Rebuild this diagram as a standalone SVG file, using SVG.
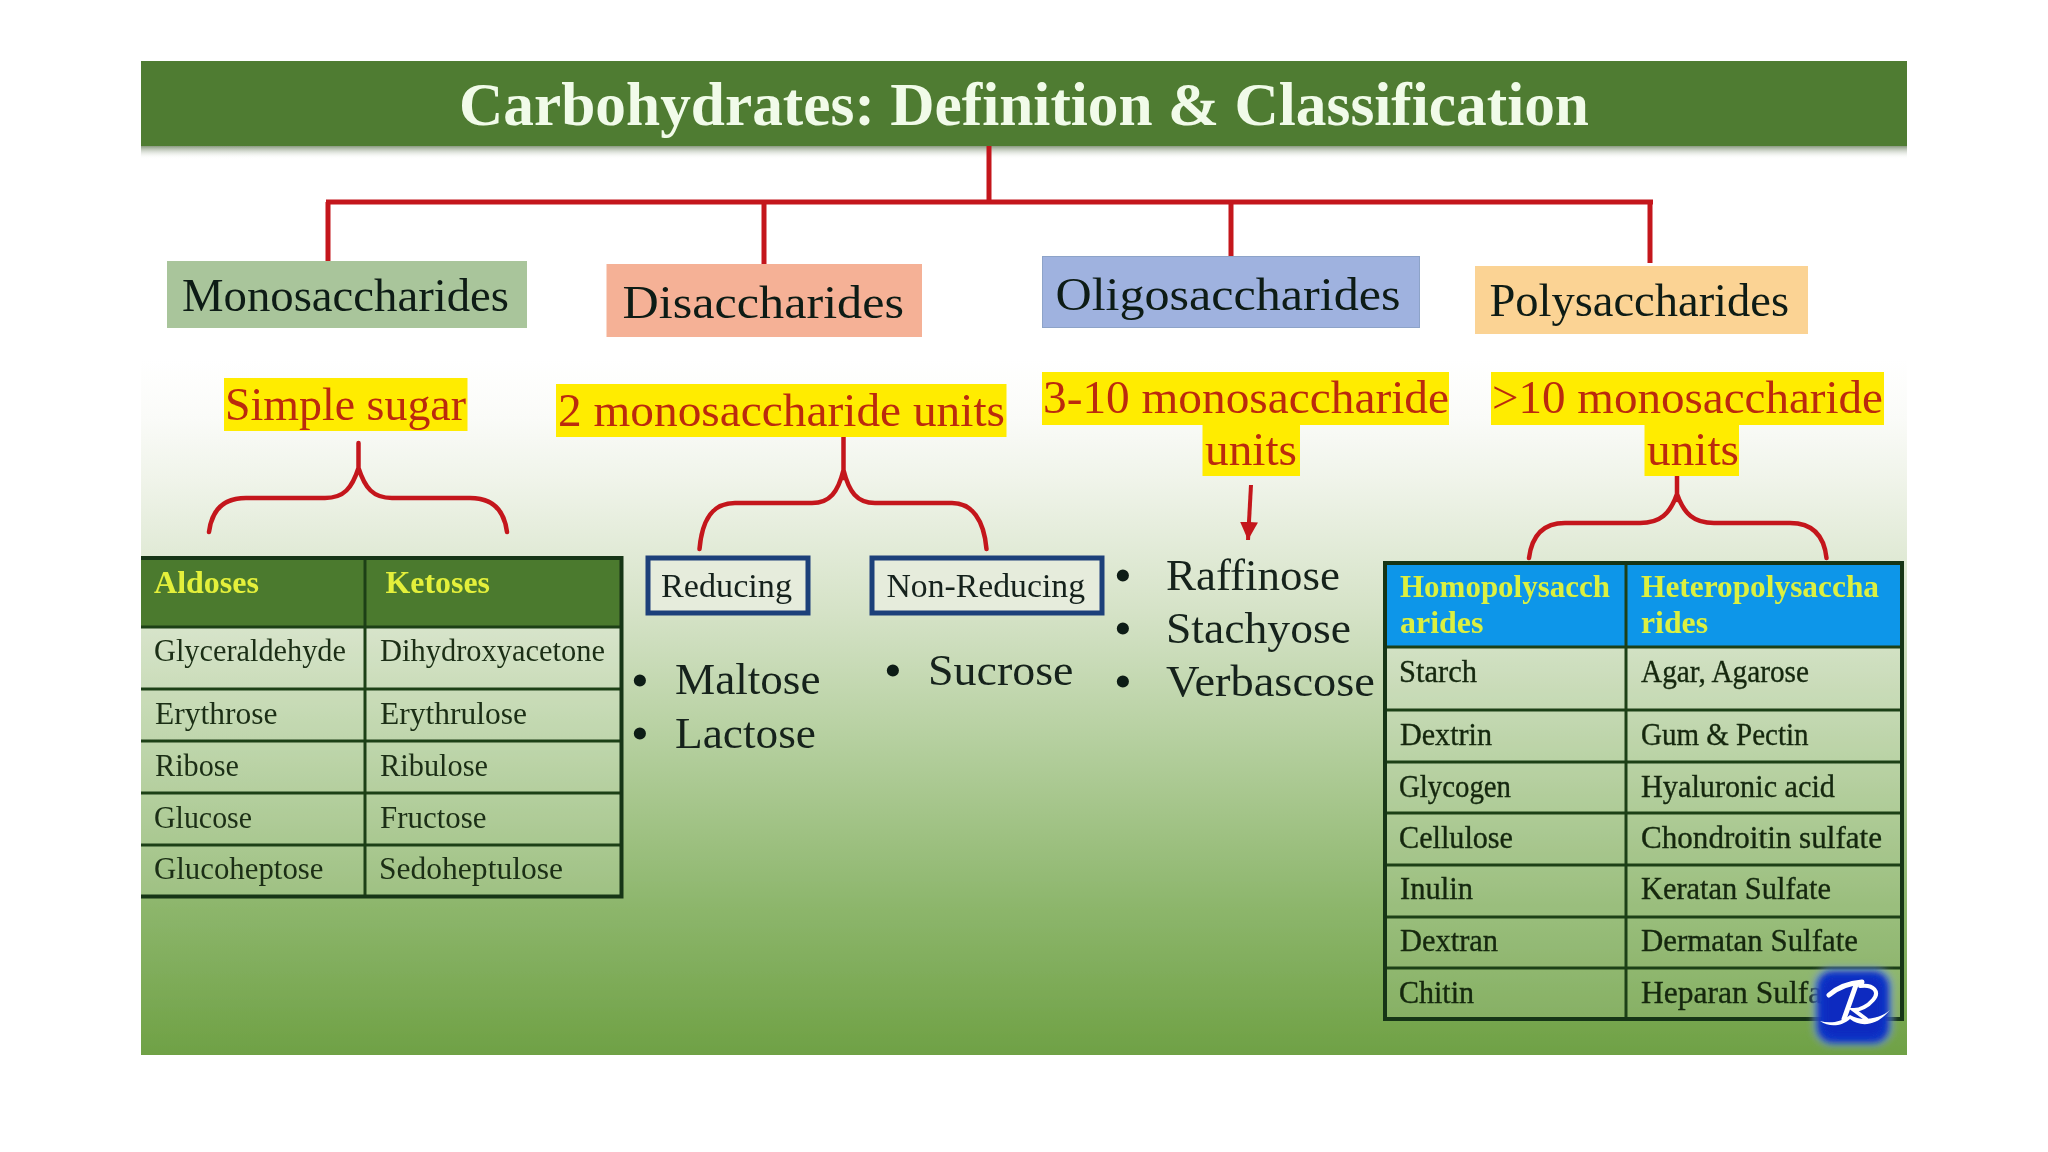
<svg xmlns="http://www.w3.org/2000/svg" width="2048" height="1152" viewBox="0 0 2048 1152">
<defs>
<linearGradient id="bg" x1="0" y1="0" x2="0" y2="1">
<stop offset="0" stop-color="#ffffff"/><stop offset="0.3" stop-color="#ffffff"/><stop offset="0.36" stop-color="#fafbf8"/><stop offset="0.42" stop-color="#f0f4ea"/><stop offset="0.55" stop-color="#d6e3c8"/><stop offset="0.68" stop-color="#b6d0a0"/><stop offset="0.85" stop-color="#8db66c"/><stop offset="1" stop-color="#6fa145"/>
</linearGradient>
<linearGradient id="shadow" x1="0" y1="0" x2="0" y2="1"><stop offset="0" stop-color="#8a9a80"/><stop offset="1" stop-color="#ffffff" stop-opacity="0"/></linearGradient>
<filter id="soft" x="-20%" y="-20%" width="140%" height="140%"><feGaussianBlur stdDeviation="3"/></filter>
<filter id="video" x="0" y="0" width="100%" height="100%"><feGaussianBlur stdDeviation="0.6"/></filter>
<marker id="head" markerUnits="userSpaceOnUse" markerWidth="20" markerHeight="20" refX="18" refY="9" orient="auto"><path d="M0 0L18 9L0 18Z" fill="#c4161c"/></marker>
</defs>
<style>
text{font-family:"Liberation Serif","Times New Roman",serif}
.title{font-size:62px;font-weight:700;fill:#f1fbe9}
.cat{font-size:47px;fill:#0e1a14}
.note{font-size:47px;fill:#bb2a10}
.hl{fill:#ffec00}
.cell{font-size:31px;fill:#1a2e14}
.cellr{font-size:31px;fill:#14280f;stroke:#14280f;stroke-width:.35px}
.hd{font-size:31px;font-weight:700;fill:#e4f03a}
.hdr{font-size:31px;font-weight:700;fill:#dcf040}
.item{font-size:45px;fill:#15221a}
.bul{font-size:45px;font-weight:700;fill:#0e1a14;text-anchor:middle}
.sub{font-size:34px;fill:#14201c}
.subbox{fill:#e6ecdc;stroke:#1f3f7a;stroke-width:5}
.tline{stroke:#1f4019;stroke-width:3;fill:none}
.tout{stroke:#173516;stroke-width:4;fill:none}
.wire{stroke:#c4161c;stroke-width:5;fill:none}
.brace{stroke:#c4161c;stroke-width:4.5;fill:none;stroke-linecap:round}
</style>
<rect width="2048" height="1152" fill="#ffffff"/>
<g id="diagram" filter="url(#video)">
<rect x="141" y="61" width="1766" height="994" fill="url(#bg)"/>
<g id="banner">
<rect x="141" y="146" width="1766" height="13" fill="url(#shadow)"/>
<rect x="141" y="61" width="1766" height="85" fill="#4f7b31"/>
<text class="title" x="459" y="125" textLength="1130" lengthAdjust="spacingAndGlyphs">Carbohydrates: Definition &amp; Classification</text>
</g>
<g id="connectors">
<path class="wire" d="M989 146V202M326 202H1653M328 202V261M764 202V265M1231 202V258M1650 202V263"/>
<path class="brace" d="M358.500 443V472M209 532C212 508 226 498 246 498L325 498C344 498 352 488 358.500 468C365 488 373 498 392 498L470 498C490 498 504 508 507 532"/>
<path class="brace" d="M843.500 437V478M699.500 549C702 520 712 503 735 503L812 503C830 503 838 492 843.500 470C849 492 857 503 875 503L952 503C972 503 984 520 986.500 549"/>
<path class="brace" d="M1677 476V500M1529 558C1532 535 1544 523 1565 523L1640 523C1660 523 1670 514 1677 494C1684 514 1694 523 1714 523L1790 523C1812 523 1824 535 1826.500 558"/>
<path class="wire" d="M1251 485L1248 540" marker-end="url(#head)" style="stroke-width:4"/>
</g>
<g id="node-monosaccharides"><rect x="167" y="261" width="360" height="67" fill="#a9c59b"/><text class="cat" x="182" y="311" textLength="327" lengthAdjust="spacingAndGlyphs">Monosaccharides</text></g>
<g id="node-disaccharides"><rect x="606.500" y="264" width="315.500" height="73" fill="#f5b196"/><text class="cat" x="622.500" y="318" textLength="281.500" lengthAdjust="spacingAndGlyphs">Disaccharides</text></g>
<g id="node-oligosaccharides"><rect x="1042.500" y="256.500" width="377" height="71" fill="#9fb2df" stroke="#8da3c8"/><text class="cat" x="1055.500" y="310" textLength="345" lengthAdjust="spacingAndGlyphs">Oligosaccharides</text></g>
<g id="node-polysaccharides"><rect x="1475" y="266" width="333" height="68" fill="#fbd394"/><text class="cat" x="1489.500" y="316" textLength="299.500" lengthAdjust="spacingAndGlyphs">Polysaccharides</text></g>
<g id="note-simple"><rect class="hl" x="224" y="378" width="243.500" height="53"/><text class="note" x="225" y="420" textLength="241" lengthAdjust="spacingAndGlyphs">Simple sugar</text></g>
<g id="note-two"><rect class="hl" x="556" y="384" width="450.500" height="53"/><text class="note" x="558" y="426" textLength="447" lengthAdjust="spacingAndGlyphs">2 monosaccharide units</text></g>
<g id="note-three"><rect class="hl" x="1042" y="372" width="407" height="53"/><rect class="hl" x="1202.500" y="424" width="97.500" height="52"/><text class="note" x="1043" y="413" textLength="406" lengthAdjust="spacingAndGlyphs">3-10 monosaccharide</text><text class="note" x="1205" y="465" textLength="92" lengthAdjust="spacingAndGlyphs">units</text></g>
<g id="note-ten"><rect class="hl" x="1491" y="372" width="393" height="53"/><rect class="hl" x="1644.500" y="424" width="94.500" height="52"/><text class="note" x="1492" y="413" textLength="391" lengthAdjust="spacingAndGlyphs">&gt;10 monosaccharide</text><text class="note" x="1647" y="465" textLength="92" lengthAdjust="spacingAndGlyphs">units</text></g>
<g id="table-left">
<rect x="141" y="558" width="481" height="69" fill="#4c7a2f"/>
<rect x="141" y="627" width="481" height="270" fill="#ffffff" fill-opacity="0.14"/>
<path class="tline" d="M141 627H622M141 689H622M141 741H622M141 793H622M141 845H622M365 558V897"/>
<path class="tout" d="M141 558H621.500V896.500H141"/>
<text class="hd" x="154" y="593" textLength="105" lengthAdjust="spacingAndGlyphs">Aldoses</text><text class="hd" x="385.500" y="593" textLength="104.500" lengthAdjust="spacingAndGlyphs">Ketoses</text>
<text class="cell" x="154" y="661" textLength="192" lengthAdjust="spacingAndGlyphs">Glyceraldehyde</text><text class="cell" x="380" y="661" textLength="225" lengthAdjust="spacingAndGlyphs">Dihydroxyacetone</text>
<text class="cell" x="155" y="724" textLength="122.500" lengthAdjust="spacingAndGlyphs">Erythrose</text><text class="cell" x="380" y="724" textLength="147" lengthAdjust="spacingAndGlyphs">Erythrulose</text>
<text class="cell" x="155" y="776" textLength="84" lengthAdjust="spacingAndGlyphs">Ribose</text><text class="cell" x="380" y="776" textLength="108" lengthAdjust="spacingAndGlyphs">Ribulose</text>
<text class="cell" x="154" y="828" textLength="98" lengthAdjust="spacingAndGlyphs">Glucose</text><text class="cell" x="380" y="828" textLength="106.500" lengthAdjust="spacingAndGlyphs">Fructose</text>
<text class="cell" x="154" y="879" textLength="169.500" lengthAdjust="spacingAndGlyphs">Glucoheptose</text><text class="cell" x="379" y="879" textLength="184" lengthAdjust="spacingAndGlyphs">Sedoheptulose</text>
</g>
<g id="node-reducing"><rect class="subbox" x="648" y="558" width="160" height="55"/><text class="sub" x="661" y="597" textLength="131" lengthAdjust="spacingAndGlyphs">Reducing</text></g>
<g id="node-nonreducing"><rect class="subbox" x="872" y="558" width="230" height="55"/><text class="sub" x="886.500" y="597" textLength="198.500" lengthAdjust="spacingAndGlyphs">Non-Reducing</text></g>
<g id="list-reducing"><text class="bul" x="640" y="695">•</text><text class="item" x="675" y="694" textLength="145.500" lengthAdjust="spacingAndGlyphs">Maltose</text><text class="bul" x="640" y="748">•</text><text class="item" x="675" y="748" textLength="141" lengthAdjust="spacingAndGlyphs">Lactose</text></g>
<g id="list-nonreducing"><text class="bul" x="893" y="685">•</text><text class="item" x="928" y="685" textLength="145.500" lengthAdjust="spacingAndGlyphs">Sucrose</text></g>
<g id="list-oligo"><text class="bul" x="1123" y="590">•</text><text class="item" x="1166" y="590" textLength="174" lengthAdjust="spacingAndGlyphs">Raffinose</text><text class="bul" x="1123" y="643">•</text><text class="item" x="1166" y="643" textLength="185" lengthAdjust="spacingAndGlyphs">Stachyose</text><text class="bul" x="1123" y="696">•</text><text class="item" x="1166" y="696" textLength="209" lengthAdjust="spacingAndGlyphs">Verbascose</text></g>
<g id="table-right">
<rect x="1385" y="563" width="517" height="84" fill="#0c96e9"/>
<rect x="1385" y="647" width="517" height="372" fill="#ffffff" fill-opacity="0.12"/>
<path class="tline" d="M1385 647H1902M1385 710H1902M1385 762H1902M1385 813H1902M1385 865H1902M1385 917H1902M1385 968H1902M1626 563V1019"/>
<path class="tout" d="M1385 563H1902V1019H1385Z"/>
<text class="hdr" x="1400" y="597" textLength="210" lengthAdjust="spacingAndGlyphs">Homopolysacch</text><text class="hdr" x="1400" y="633" textLength="83.500" lengthAdjust="spacingAndGlyphs">arides</text>
<text class="hdr" x="1641" y="597" textLength="238" lengthAdjust="spacingAndGlyphs">Heteropolysaccha</text><text class="hdr" x="1641" y="633" textLength="67" lengthAdjust="spacingAndGlyphs">rides</text>
<text class="cellr" x="1399" y="682" textLength="78" lengthAdjust="spacingAndGlyphs">Starch</text><text class="cellr" x="1641" y="682" textLength="168" lengthAdjust="spacingAndGlyphs">Agar, Agarose</text>
<text class="cellr" x="1400" y="745" textLength="92" lengthAdjust="spacingAndGlyphs">Dextrin</text><text class="cellr" x="1641" y="745" textLength="167.500" lengthAdjust="spacingAndGlyphs">Gum &amp; Pectin</text>
<text class="cellr" x="1399" y="797" textLength="112" lengthAdjust="spacingAndGlyphs">Glycogen</text><text class="cellr" x="1641" y="797" textLength="194" lengthAdjust="spacingAndGlyphs">Hyaluronic acid</text>
<text class="cellr" x="1399" y="848" textLength="114" lengthAdjust="spacingAndGlyphs">Cellulose</text><text class="cellr" x="1641" y="848" textLength="241" lengthAdjust="spacingAndGlyphs">Chondroitin sulfate</text>
<text class="cellr" x="1400" y="899" textLength="73" lengthAdjust="spacingAndGlyphs">Inulin</text><text class="cellr" x="1641" y="899" textLength="190" lengthAdjust="spacingAndGlyphs">Keratan Sulfate</text>
<text class="cellr" x="1400" y="951" textLength="98" lengthAdjust="spacingAndGlyphs">Dextran</text><text class="cellr" x="1641" y="951" textLength="217" lengthAdjust="spacingAndGlyphs">Dermatan Sulfate</text>
<text class="cellr" x="1399" y="1003" textLength="75" lengthAdjust="spacingAndGlyphs">Chitin</text><text class="cellr" x="1641" y="1003" textLength="190" lengthAdjust="spacingAndGlyphs">Heparan Sulfat</text>
</g>
<g id="logo-mark">
<rect x="1812" y="966" width="82" height="81" rx="20" fill="#7f9fd8" opacity=".55" filter="url(#soft)"/>
<rect x="1817" y="971" width="72" height="72" rx="16" fill="#1034c8" filter="url(#soft)"/>
<rect x="1824" y="978" width="58" height="58" rx="10" fill="#0b2cc0" filter="url(#soft)"/>
<path d="M1829 995C1838 987 1850 983 1862 982M1856 985L1844 1019" stroke="#ffffff" stroke-width="5" fill="none" stroke-linecap="round"/>
<path d="M1860 986C1874 984 1880 992 1873 1000C1868 1006 1860 1010 1854 1010L1866 1019" stroke="#ffffff" stroke-width="4" fill="none" stroke-linecap="round"/>
<path d="M1820 1021C1830 1028 1842 1026 1850 1019C1860 1027 1876 1027 1890 1010C1880 1019 1862 1022 1850 1015C1842 1022 1830 1024 1820 1021Z" fill="#ffffff"/>
</g>
</g>
</svg>
